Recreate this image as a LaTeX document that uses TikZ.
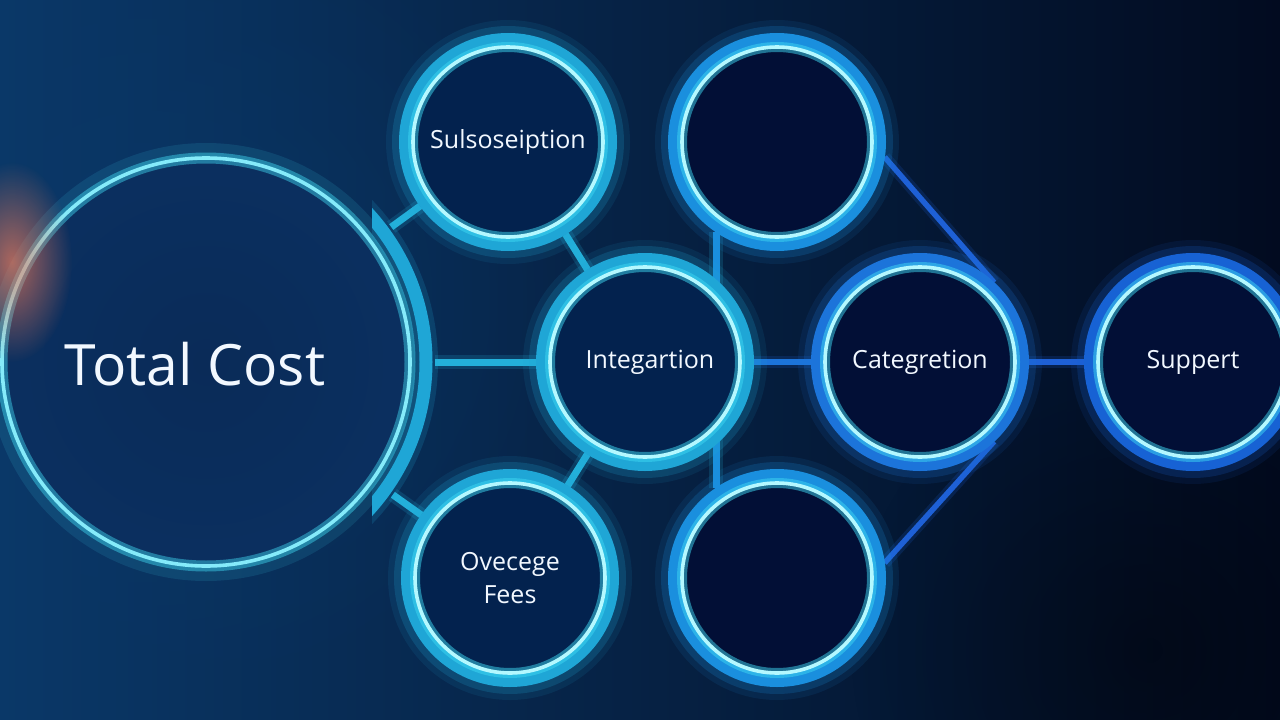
\documentclass[tikz,border=0pt]{standalone}
\usepackage{fontspec}
\setmainfont{Open Sans}
\usetikzlibrary{fadings}
\tikzfading[name=softdisc, inner color=transparent!0, outer color=transparent!100]
\definecolor{bgL}{HTML}{0A3868}
\definecolor{bgR}{HTML}{020B20}
\definecolor{bandcy}{HTML}{1FA6D6}
\definecolor{bandmid}{HTML}{1A8FDE}
\definecolor{bandbl}{HTML}{1C74DA}
\definecolor{bandsup}{HTML}{1762D4}
\definecolor{ringhi}{HTML}{B4F8FF}
\definecolor{ringglow}{HTML}{3ED8F2}
\definecolor{navyc}{HTML}{03224E}
\definecolor{navyd}{HTML}{020F36}
\definecolor{navym}{HTML}{063A74}
\definecolor{navymb}{HTML}{07306E}
\definecolor{glowcy}{HTML}{34B8E2}
\definecolor{glowbl}{HTML}{2486DA}
\definecolor{bignavy}{HTML}{0A2B58}
\definecolor{bigmid}{HTML}{0B3264}
\definecolor{bigedge}{HTML}{2296C8}
\definecolor{conncy}{HTML}{23B0DA}
\definecolor{connbl}{HTML}{1E60D6}
\definecolor{txt}{HTML}{F2F8FF}
\definecolor{orglow}{HTML}{F07A5A}
\pgfdeclareradialshading{satcy}{\pgfpoint{0bp}{0bp}}{color(0bp)=(navyc); color(27bp)=(navyc); color(40bp)=(navym); color(50bp)=(glowcy)}
\pgfdeclareradialshading{satbl}{\pgfpoint{0bp}{0bp}}{color(0bp)=(navyd); color(27bp)=(navyd); color(40bp)=(navymb); color(50bp)=(glowbl)}
\pgfdeclareradialshading{bigfill}{\pgfpoint{0bp}{0bp}}{color(0bp)=(bignavy); color(40bp)=(bigmid); color(46.5bp)=(bigmid); color(50bp)=(bigedge)}
\pgfdeclarelayer{bglayer}
\pgfdeclarelayer{connlayer}
\pgfdeclarelayer{circlayer}
\pgfsetlayers{bglayer,connlayer,circlayer,main}
\newcommand\ringvis[4]{%
  \begin{pgfonlayer}{circlayer}
    \draw[#2, line width=36pt, opacity=.10] (#1.center) circle (104pt);
    \draw[#2, line width=24pt, opacity=.20] (#1.center) circle (104pt);
    \draw[#2, line width=14pt] (#1.center) circle (102pt);
    \shade[shading=#3] (#1.center) circle (95pt);
    \draw[#4, line width=10pt, opacity=.5] (#1.center) circle (95pt);
    \draw[ringhi, line width=3.6pt] (#1.center) circle (95pt);
  \end{pgfonlayer}}
\tikzset{
  satnode/.style={circle, minimum size=217pt, inner sep=0pt, text=txt,
    font=\fontsize{25}{33}\selectfont, align=center},
  conncyan/.style={draw=conncy, line width=7pt, preaction={draw=conncy, line width=14pt, opacity=.18}},
  connblue/.style={draw=connbl, line width=5.5pt, preaction={draw=connbl, line width=12pt, opacity=.18}}
}
\begin{document}
\begin{tikzpicture}[x=1pt,y=-1pt]
\useasboundingbox (0,0) rectangle (1280,720);
% background
\begin{pgfonlayer}{bglayer}
  \shade[left color=bgL, right color=bgR] (0,0) rectangle (1280,720);
  \fill[bgL, path fading=softdisc, opacity=.6] (150,300) circle (420pt);
  \fill[black, path fading=softdisc, opacity=.35] (1150,650) circle (300pt);
\end{pgfonlayer}

% nodes
\node[circle, minimum size=458pt, inner sep=0pt] (tc) at (206,362) {};
\node[text=txt, font=\fontsize{57}{66}\selectfont] (tclbl) at (195,364) {Total Cost};
\node[satnode] (sub) at (508,142) {Sulsoseiption};
\node[satnode] (int) at (645,362) {\hspace*{10pt}Integartion};
\node[satnode] (ov) at (510,578) {Ovecege\\Fees};
\node[satnode] (tm) at (777,142) {};
\node[satnode] (bm) at (777,578) {};
\node[satnode] (cat) at (920,362) {Categretion};
\node[satnode] (sup) at (1193,362) {Suppert};

% big circle visuals
\begin{pgfonlayer}{circlayer}
  \draw[ringglow, line width=30pt, opacity=.12] (tc.center) circle (204pt);
  \shade[shading=bigfill] (tc.center) circle (204pt);
  \draw[ringglow, line width=11pt, opacity=.45] (tc.center) circle (204pt);
  \draw[ringhi!60!ringglow, line width=3.6pt] (tc.center) circle (204pt);
  % warm flare on the left edge
  \fill[orglow, path fading=softdisc, opacity=.7] (12,262) ellipse (60pt and 100pt);
  \begin{scope}
    \clip (0,190) rectangle (70,340);
    \draw[white!80!orglow, line width=8pt, opacity=.5, path fading=softdisc] (tc.center) circle (204pt);
  \end{scope}
  \begin{scope}
    \clip (372,0) rectangle (470,720);
    \draw[bandcy, line width=24pt, opacity=.18] (tc.center) circle (220pt);
    \draw[bandcy, line width=13pt] (tc.center) circle (220pt);
  \end{scope}
\end{pgfonlayer}
\ringvis{sub}{bandcy}{satcy}{ringglow}
\ringvis{int}{bandcy}{satcy}{ringglow}
\ringvis{ov}{bandcy}{satcy}{ringglow}
\ringvis{tm}{bandmid}{satbl}{ringglow}
\ringvis{bm}{bandmid}{satbl}{ringglow}
\ringvis{cat}{bandbl}{satbl}{ringglow}
\ringvis{sup}{bandsup}{satbl}{ringglow}

% connectors
\begin{pgfonlayer}{connlayer}
  \draw[conncyan] (tc) -- (sub);
  \draw[conncyan] (tc) -- (int);
  \draw[conncyan] (tc) -- (ov);
  \draw[conncyan] (sub) -- (int);
  \draw[conncyan] (int) -- (ov);
  \draw[conncyan, draw=bandmid] (tm.236) -- (bm.124);
  \draw[connblue, draw=bandbl] (int) -- (cat);
  \draw[connblue] (tm.352) -- (cat.47);
  \draw[connblue] (cat.313) -- (bm.8);
  \draw[connblue] (cat) -- (sup);
\end{pgfonlayer}
\end{tikzpicture}
\end{document}
